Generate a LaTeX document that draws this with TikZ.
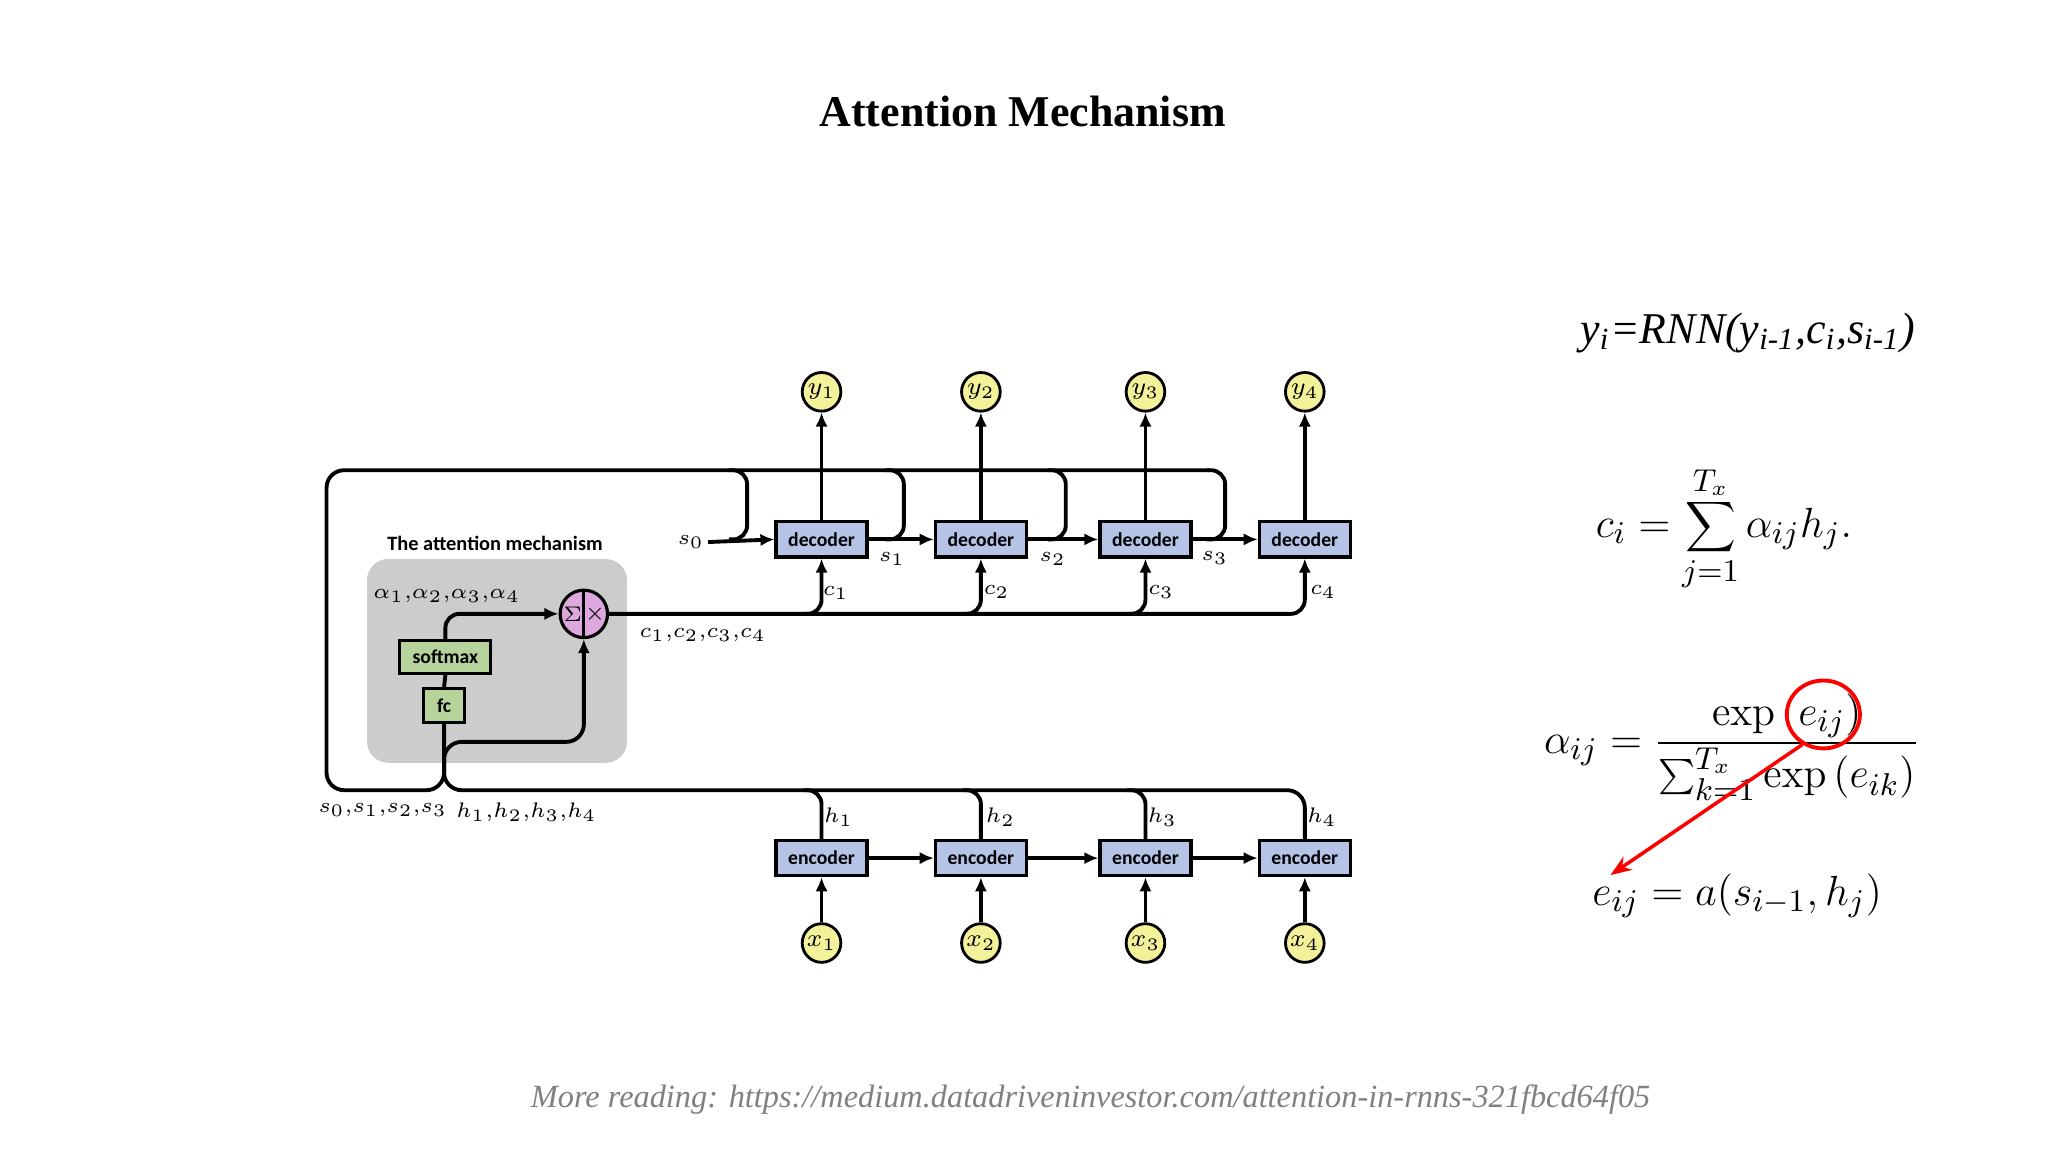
\documentclass[tikz,border=0pt]{standalone}
\usepackage[no-math]{fontspec}
\setmainfont{Liberation Serif}
\newfontfamily\sansf{Carlito}
\usetikzlibrary{arrows.meta,calc}
\definecolor{boxblue}{HTML}{B4C3E6}
\definecolor{boxgreen}{HTML}{B5D39A}
\definecolor{circy}{HTML}{F3F19A}
\definecolor{purp}{HTML}{DDA8DD}
\tikzset{
  ln/.style={line width=1.1pt,black},
  arr/.style={ln,-{Latex[length=4pt,width=3.5pt]}},
  blk/.style={draw=black,line width=0.9pt,fill=boxblue,minimum width=25.9pt,minimum height=10pt,inner sep=0pt,font=\sansf\bfseries\fontsize{5.6}{6}\selectfont},
  grn/.style={draw=black,line width=0.9pt,fill=boxgreen,inner sep=0pt,font=\sansf\bfseries\fontsize{5.6}{6}\selectfont},
  io/.style={circle,draw=black,line width=0.8pt,fill=circy,minimum size=11pt,inner sep=0pt,font=\fontsize{7}{8}\selectfont},
  lab/.style={inner sep=1pt,font=\fontsize{6}{7}\selectfont},
  eq/.style={font=\fontsize{13}{16}\selectfont}
}
\begin{document}
\begin{tikzpicture}[x=0.01306cm,y=-0.01306cm]
\useasboundingbox (0,0) rectangle (1568,882);
\node[font=\bfseries\fontsize{12.5}{14}\selectfont] (title) at (783,85) {Attention Mechanism};

% grey box
\fill[gray!40,rounded corners=6pt] (281,428) rectangle (480,584);
\node[font=\sansf\bfseries\fontsize{5.8}{6}\selectfont] (atl) at (379,416) {The attention mechanism};

% nodes
\foreach \i/\x in {1/629,2/751,3/877,4/999}{
  \node[blk] (d\i) at (\x,413) {decoder};
  \node[blk] (e\i) at (\x,657) {encoder};
  \node[io] (y\i) at (\x,300) {$y_{\i}$};
  \node[io] (x\i) at (\x,722) {$x_{\i}$};
  \draw[arr] (d\i.north) -- (y\i.south);
  \draw[arr] (x\i.north) -- (e\i.south);
}
\node[grn,minimum width=25.9pt,minimum height=9.3pt] (sm) at (341,503) {softmax};
\node[grn,minimum width=11.8pt,minimum height=9.6pt] (fc) at (340,540) {fc};
\node[circle,draw=black,line width=0.9pt,fill=purp,minimum size=13.5pt,inner sep=0pt] (sig) at (447,470) {};
\draw[line width=0.8pt] (sig.north) -- (sig.south);
\node[font=\fontsize{6}{6}\selectfont,inner sep=0pt] (sgl) at (438.5,470) {$\Sigma$};
\node[font=\fontsize{6}{6}\selectfont,inner sep=0pt] (tml) at (455.5,470) {$\times$};

% s0 and decoder chain
\node[lab] (s0) at (529,415) {$s_0$};
\draw[arr] (s0.east) -- (d1.west);
\draw[arr] (d1.east) -- (d2.west);
\draw[arr] (d2.east) -- (d3.west);
\draw[arr] (d3.east) -- (d4.west);
\draw[arr] (e1.east) -- (e2.west);
\draw[arr] (e2.east) -- (e3.west);
\draw[arr] (e3.east) -- (e4.west);

% top s loop
\draw[ln,rounded corners=5pt] (926,360) -- (250,360) -- (250,605) -- (340,605) -- (fc.south);
\foreach \x in {572,692,816,938}{
  \draw[ln,rounded corners=4pt] (\x-14,360) -- (\x,360) -- (\x,413) -- (\x-14,413);
}
% attention inner
\draw[ln] (fc.north) -- (sm.south);
\draw[arr,rounded corners=4pt] (sm.north) |- (sig.west);
\draw[arr,rounded corners=5pt] (e4.north) |- (340,605) -- (340,568) -| (sig.south);
\foreach \i in {1,2,3}{
  \draw[ln,rounded corners=4pt] ($(e\i.north|-0,605)+(-14,0)$) -| (e\i.north);
  \draw[arr,rounded corners=4pt] ($(d\i.south|-0,470)+(-14,0)$) -| (d\i.south);
}
\draw[arr,rounded corners=4pt] (sig.east) -| (d4.south);

% labels
\node[lab] (ls1) at (683,428) {$s_1$};
\node[lab] (ls2) at (806,428) {$s_2$};
\node[lab] (ls3) at (930,427) {$s_3$};
\node[lab] (lc1) at (640,454) {$c_1$};
\node[lab] (lc2) at (763,453) {$c_2$};
\node[lab] (lc3) at (889,453) {$c_3$};
\node[lab] (lc4) at (1013,453) {$c_4$};
\node[lab] (lh1) at (642,626) {$h_1$};
\node[lab] (lh2) at (766,626) {$h_2$};
\node[lab] (lh3) at (890,626) {$h_3$};
\node[lab] (lh4) at (1012,626) {$h_4$};
\node[lab] (lcc) at (538,486) {$c_1{,}c_2{,}c_3{,}c_4$};
\node[lab] (lss) at (293,620) {$s_0{,}s_1{,}s_2{,}s_3$};
\node[lab] (lhh) at (403,622) {$h_1{,}h_2{,}h_3{,}h_4$};
\node[lab] (lal) at (342,456) {$\alpha_1{,}\alpha_2{,}\alpha_3{,}\alpha_4$};

% equations
\node[font=\itshape\fontsize{12.5}{15}\selectfont] (eq1) at (1338,255) {y\textsubscript{i}=RNN(y\textsubscript{i-1},c\textsubscript{i},s\textsubscript{i-1})};
\node[eq] (eq2) at (1320,405) {$\displaystyle c_i=\sum_{j=1}^{T_x}\alpha_{ij}h_j.$};
\node[eq] (eq3) at (1326,572) {$\displaystyle \alpha_{ij}=\frac{\exp\left(e_{ij}\right)}{\sum_{k=1}^{T_x}\exp\left(e_{ik}\right)}$};
\node[eq] (eq4) at (1330,686) {$e_{ij}=a(s_{i-1},h_j)$};
\draw[red,line width=1.1pt] (1396,547) ellipse (28 and 26);
\coordinate (ra) at (1380,570);
\coordinate (rb) at (1233,670);
\draw[red,line width=1pt,-{Stealth[length=6pt]}] (ra) -- (rb);

\node[font=\itshape\fontsize{9.2}{11}\selectfont,text=gray] (foot) at (835,842) {More reading: https://medium.datadriveninvestor.com/attention-in-rnns-321fbcd64f05};
\end{tikzpicture}
\end{document}
